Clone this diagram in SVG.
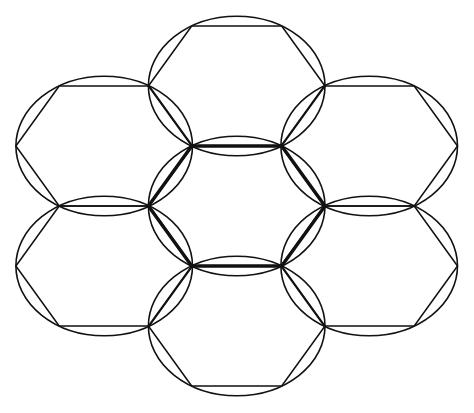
<svg xmlns="http://www.w3.org/2000/svg" xmlns:xlink="http://www.w3.org/1999/xlink" width="474" height="413" viewBox="0 0 474 413">
<style>
.ell{fill:none;stroke:#111;stroke-width:1.6}
.hex{fill:none;stroke:#111;stroke-width:1.5;stroke-linejoin:round}
.hex.bold{stroke-width:3.4}
</style>
<defs>
<ellipse id="e" class="ell" cx="0" cy="0" rx="88.3" ry="69.7"/>
<polygon id="h" points="-88.3,0 -45,-60 45,-60 88.3,0 45,60 -45,60"/>
</defs>
<rect width="474" height="413" fill="#fff"/>
<g id="top" transform="translate(236.7,86)"><use href="#e"/><use href="#h" class="hex"/></g>
<g id="upper-left" transform="translate(104.2,146)"><use href="#e"/><use href="#h" class="hex"/></g>
<g id="upper-right" transform="translate(369.2,146)"><use href="#e"/><use href="#h" class="hex"/></g>
<g id="lower-left" transform="translate(104.2,266)"><use href="#e"/><use href="#h" class="hex"/></g>
<g id="lower-right" transform="translate(369.2,266)"><use href="#e"/><use href="#h" class="hex"/></g>
<g id="bottom" transform="translate(236.7,326)"><use href="#e"/><use href="#h" class="hex"/></g>
<g id="center" transform="translate(236.7,206)"><use href="#e"/><use href="#h" class="hex bold"/></g>
</svg>
